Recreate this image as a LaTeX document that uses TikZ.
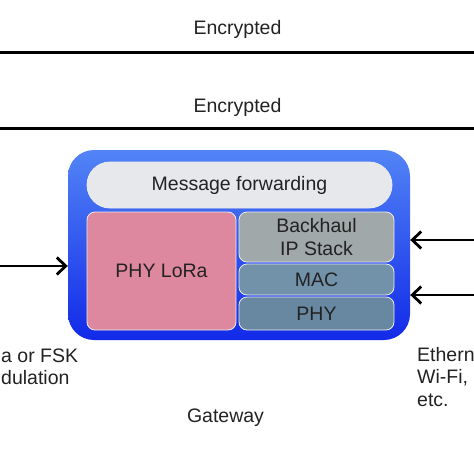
\documentclass[tikz,border=0pt]{standalone}
\usepackage{fontspec}
\setmainfont{Liberation Sans}
\usepackage{tikz}
\usetikzlibrary{arrows.meta,positioning,calc}
\usepackage{xcolor}
\definecolor{frametop}{RGB}{82,132,246}
\definecolor{framebot}{RGB}{18,42,232}
\definecolor{fwdgray}{RGB}{230,232,236}
\definecolor{lorapink}{RGB}{222,136,160}
\definecolor{bhgray}{RGB}{160,168,170}
\definecolor{macblue}{RGB}{114,146,170}
\definecolor{phyblue}{RGB}{104,136,162}
\definecolor{txtdark}{RGB}{34,34,34}

\begin{document}
\begin{tikzpicture}[x=1pt,y=-1pt,
  every node/.style={font=\fontsize{19.5}{22.5}\selectfont,text=txtdark},
  layer/.style={draw=white!85!gray,line width=0.8pt,rounded corners=8pt,
    inner sep=0pt,align=center},
  rule/.style={line width=3pt,black},
  arr/.style={line width=2.8pt,-{Straight Barb[length=9pt,width=17pt,line width=2.8pt]}}]
  \useasboundingbox (0,0) rectangle (474,474);

  % 暗号化区間
  \node[anchor=base] (enc1) at (237.5,34.5) {Encrypted};
  \draw[rule] (0,52) -- (474,52);
  \node[anchor=base] (enc2) at (237.5,112.5) {Encrypted};
  \draw[rule] (0,128) -- (474,128);

  % ゲートウェイ本体
  \node[rounded corners=26pt,minimum width=342pt,minimum height=190pt,
    top color=frametop,bottom color=framebot,inner sep=0pt] (frame) at (239,245) {};
  \node[layer,fill=fwdgray,rounded corners=23pt,minimum width=305pt,
    minimum height=46pt] (fwd) at (239.5,185) {Message forwarding};
  \node[layer,fill=lorapink,minimum width=149pt,minimum height=118pt]
    (lora) at (161.5,271) {PHY LoRa};
  \node[layer,fill=bhgray,minimum width=155pt,minimum height=50pt]
    (ipstack) at (316.5,237) {Backhaul\\IP Stack};
  \node[layer,fill=macblue,minimum width=155pt,minimum height=31pt]
    (mac) at (316.5,279.5) {MAC};
  \node[layer,fill=phyblue,minimum width=155pt,minimum height=33pt]
    (phy) at (316.5,313.5) {PHY};

  % 入力
  \coordinate (radio) at (0,266);
  \draw[arr] (radio) -- (radio -| frame.west);
  \coordinate (wan1) at (474,240);
  \coordinate (wan2) at (474,295);
  \draw[arr] (wan1) -- (wan1 -| frame.east);
  \draw[arr] (wan2) -- (wan2 -| frame.east);

  % ラベル
  \node[anchor=base west,inner sep=0pt] (mod1) at (1,362) {a or FSK};
  \node[anchor=base west,inner sep=0pt] (mod2) at (1,384) {dulation};
  \node[anchor=base west,inner sep=0pt] (eth1) at (417,361) {Ethern};
  \node[anchor=base west,inner sep=0pt] (eth2) at (417,383.5) {Wi-Fi,};
  \node[anchor=base west,inner sep=0pt] (eth3) at (417,406) {etc.};
  \node[anchor=base] (gw) at (225.5,422) {Gateway};
\end{tikzpicture}
\end{document}
